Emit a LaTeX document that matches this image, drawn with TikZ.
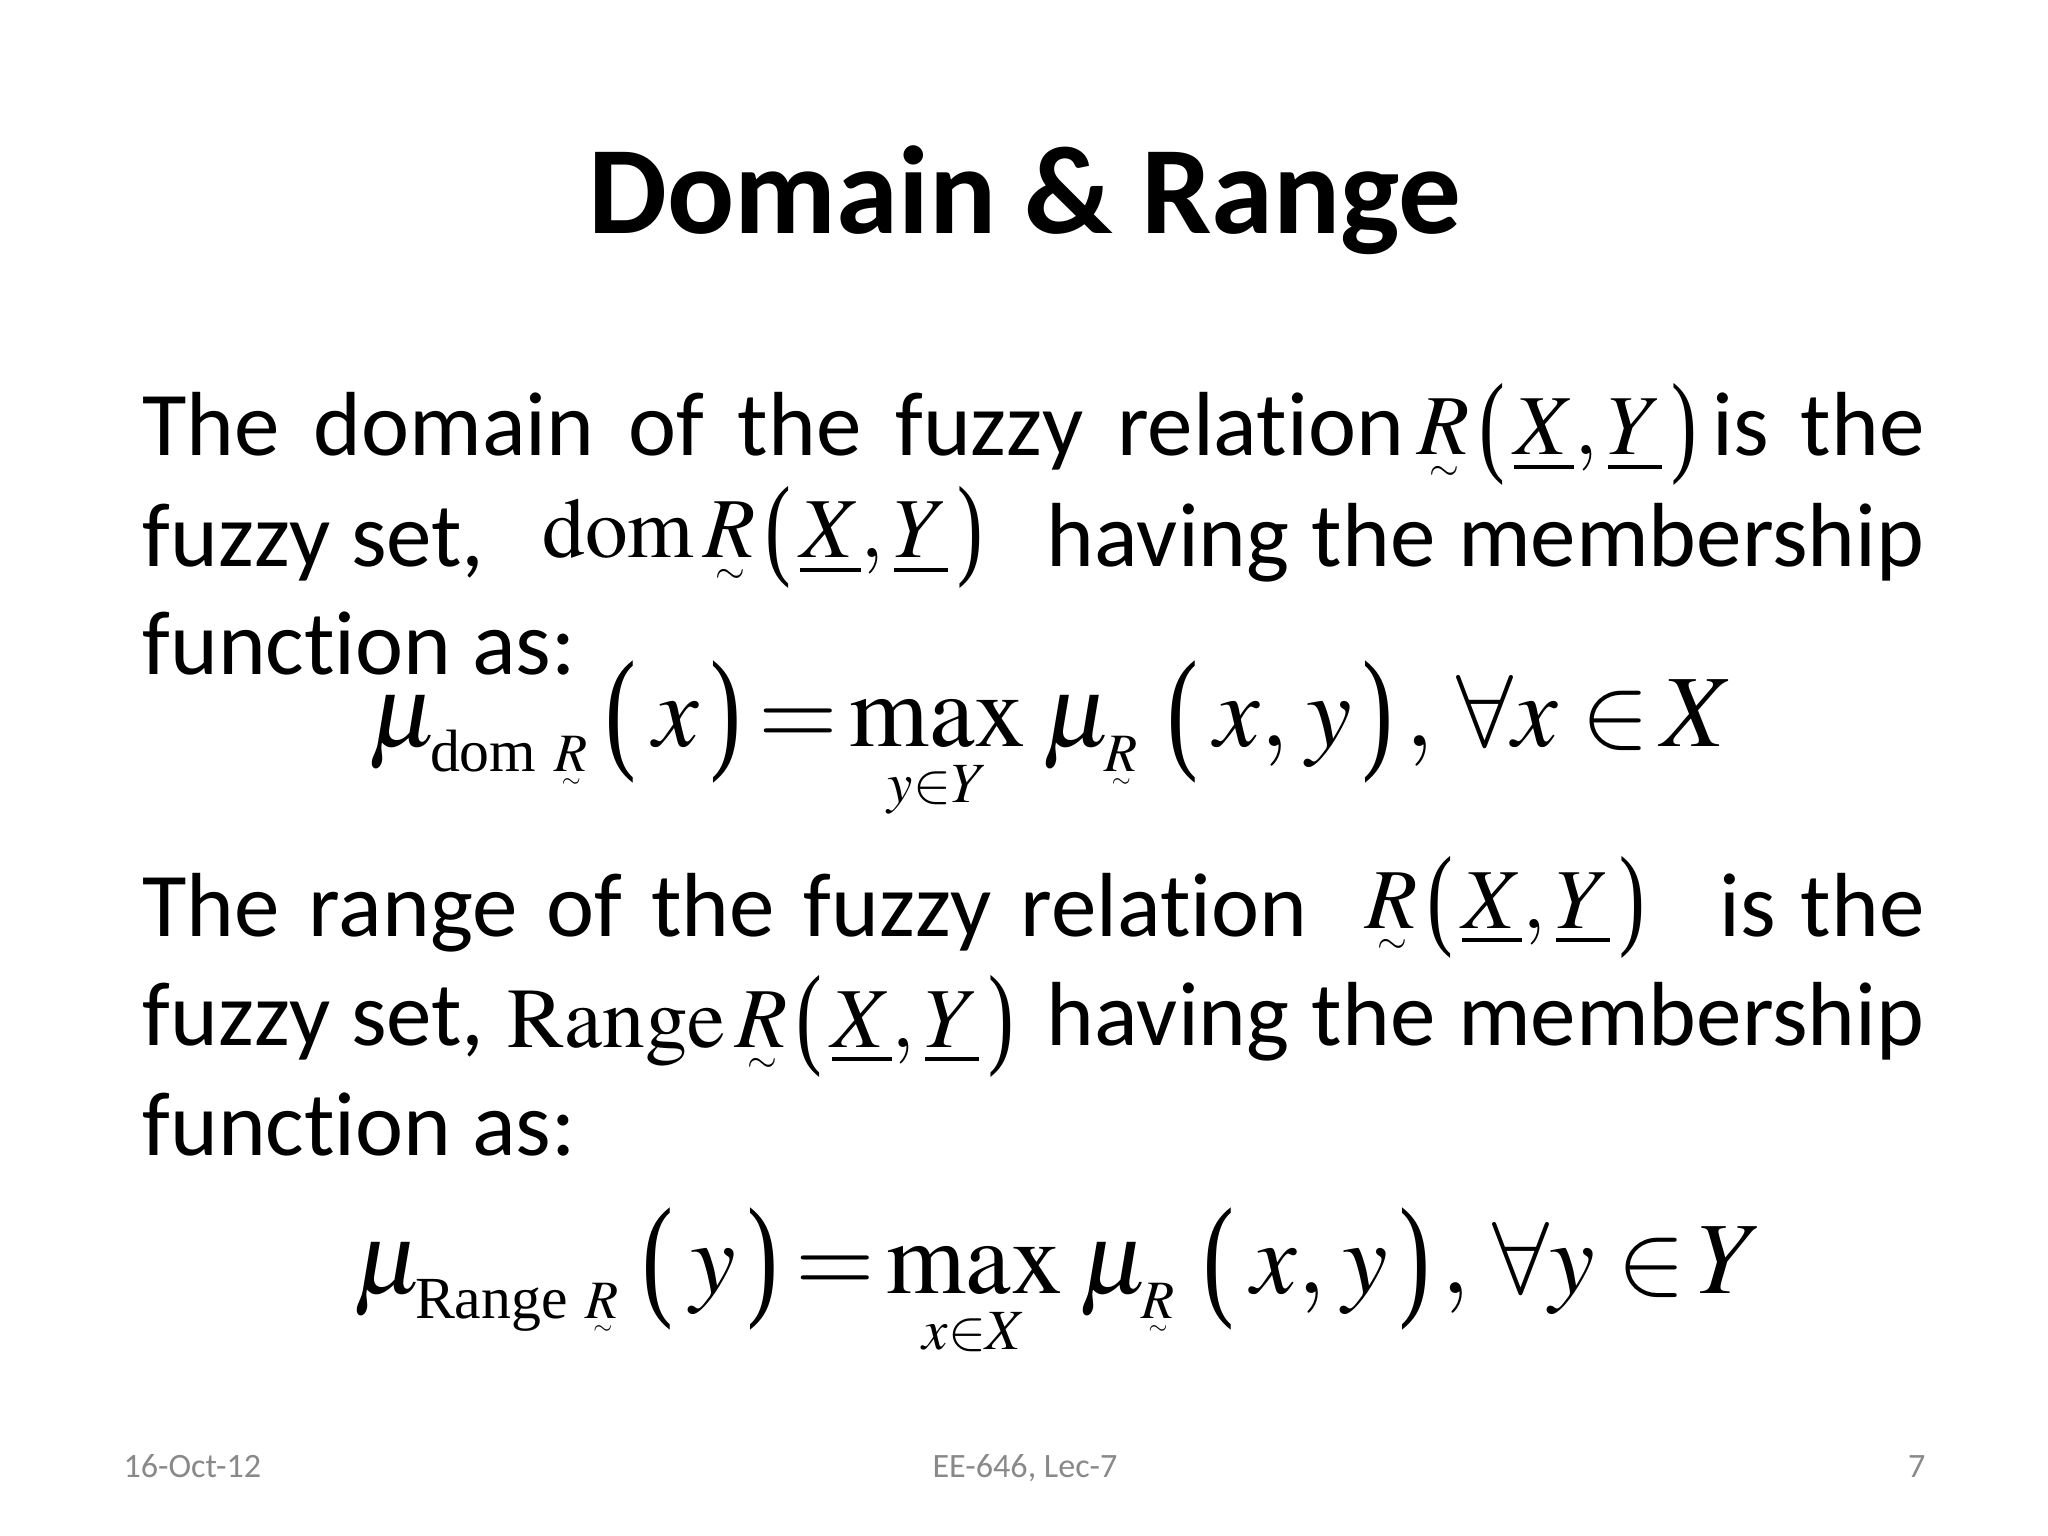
\documentclass[tikz,border=0pt]{standalone}
\usepackage{amsmath}
\usepackage{mathptmx}
\usepackage[no-math]{fontspec}
\setmainfont[Ligatures=NoCommon]{Carlito}
\newfontfamily\timesrm{Liberation Serif}
\usepackage{xcolor}
\usetikzlibrary{positioning}

\definecolor{footgray}{HTML}{898989}
\newcommand{\fzR}{R\llap{\raisebox{-0.3em}{\scalebox{0.45}{$\sim$}}\hspace{0.12em}}}
\newcommand{\fzRsub}{{\fontsize{19}{22}\selectfont$\fzR$}}
\newcommand{\fzSub}[1]{\raisebox{-3.5pt}{\fontsize{21}{24}\selectfont\timesrm #1}}
\newcommand{\fzUnder}[1]{\raisebox{2pt}{\fontsize{20}{24}\selectfont$#1$}}
\newcommand{\fzopen}{\raisebox{-0.08em}{\scalebox{0.9}[1.32]{\timesrm(}}}
\newcommand{\fzclose}{\raisebox{-0.08em}{\scalebox{0.9}[1.32]{\timesrm)}}}
\newcommand{\fzP}[1]{\mkern3mu\fzopen\mkern3mu#1\mkern2mu\fzclose}
\newcommand{\fzXY}{\mkern2mu\fzopen\mkern2mu\underline{X},\underline{Y}\mkern2mu\fzclose}
\tikzset{
    titletext/.style={inner sep=0pt,anchor=base,font=\fontsize{44}{50}\selectfont\bfseries},
    bodytext/.style={inner sep=0pt,anchor=base west,font=\fontsize{32}{38}\selectfont},
    bodyend/.style={bodytext,anchor=base east},
    inlinemath/.style={inner sep=0pt,anchor=base west,font=\fontsize{30}{36}\selectfont},
    eqmath/.style={inner sep=0pt,anchor=base west,font=\fontsize{36}{42}\selectfont},
    foottext/.style={inner sep=0pt,anchor=base,text=footgray,font=\fontsize{12}{14}\selectfont}
}

\begin{document}
\begin{tikzpicture}[x=0.35156pt,y=-0.35156pt]
    \useasboundingbox (0,0) rectangle (2048,1536);
    \node[titletext] (title) at (1025,234) {Domain \& Range};

    % domain
    \node[bodytext] (domfirst) at (142,456) {\makebox[443.5pt][s]{The domain of the fuzzy relation}};
    \node[inlinemath] (domrel) at (1417,455) {$\fzR\fzXY$};
    \node[bodyend] (domis) at (1925,456) {\makebox[74.4pt][s]{is the}};
    \node[bodytext] (domset) at (142,566) {fuzzy set,};
    \node[inlinemath] (domname) at (542,558) {$\mathrm{dom}\mkern2mu\fzR\fzXY$};
    \node[bodyend] (domhave) at (1925,566) {\makebox[308.5pt][s]{having the membership}};
    \node[bodytext] (domfunc) at (142,675) {function as:};
    \node[eqmath] (domeq) at (368,746) {$\displaystyle\mu_{\fzSub{dom\hspace{0.3em}\fzRsub}}\fzP{x}\mkern-1mu=\mkern-2mu\max_{\fzUnder{y{\in}Y}}\mkern1mu\mu_{\fzSub{\fzRsub}}\mkern2mu\fzP{x,\mkern1mu y}\mkern2mu,\mkern2mu\forall x\in\mkern-2mu X$};

    % range
    \node[bodytext] (ranfirst) at (142,936) {\makebox[409.5pt][s]{The range of the fuzzy relation}};
    \node[inlinemath] (ranrel) at (1365,928) {$\fzR\fzXY$};
    \node[bodyend] (ranis) at (1925,936) {\makebox[72.1pt][s]{is the}};
    \node[bodytext] (ranset) at (142,1045) {fuzzy set,};
    \node[inlinemath] (ranname) at (507,1047) {$\mathrm{Range}\mkern2mu\fzR\fzXY$};
    \node[bodyend] (ranhave) at (1925,1045) {\makebox[308.5pt][s]{having the membership}};
    \node[bodytext] (ranfunc) at (142,1155) {function as:};
    \node[eqmath] (raneq) at (353,1293) {$\displaystyle\mu_{\fzSub{Range\hspace{0.3em}\fzRsub}}\mkern1mu\fzP{y}\mkern-1mu=\mkern-2mu\max_{\fzUnder{x{\in}X}}\mkern1mu\mu_{\fzSub{\fzRsub}}\mkern2mu\fzP{x,\mkern1mu y}\mkern2mu,\mkern2mu\forall y\in\mkern-2mu Y$};

    % footer
    \node[foottext,anchor=base west] (footdate) at (123,1477) {16-Oct-12};
    \node[foottext] (footlec) at (1025,1477) {EE-646, Lec-7};
    \node[foottext,anchor=base east] (footpage) at (1926,1477) {7};
\end{tikzpicture}
\end{document}
